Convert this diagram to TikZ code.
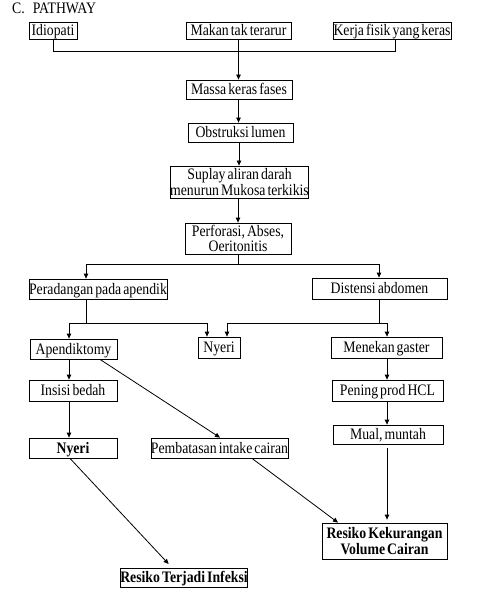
\documentclass[tikz,border=0pt]{standalone}
\usepackage{fontspec}
\setmainfont{Liberation Serif}[FakeStretch=0.86, WordSpace=0.6]
\usetikzlibrary{arrows.meta}
\begin{document}
\begin{tikzpicture}[x=1pt,y=-1pt,
  box/.style={draw, line width=0.8pt, inner sep=0pt, align=center,
    font=\fontsize{16}{15.3}\selectfont},
  one/.style={text height=10.5pt, text depth=0pt},
  bbox/.style={box, font=\fontsize{16}{15.3}\selectfont\bfseries},
  ln/.style={line width=0.8pt},
  arr/.style={ln, -{Triangle[length=5pt,width=4.5pt]}}]
\useasboundingbox (0,0) rectangle (484,596);
\node[anchor=base west, font=\fontsize{16}{16}\selectfont, inner sep=0pt] (title) at (12,13.5) {C.\hspace{8pt}PATHWAY};
% top row
\node[box, one, minimum width=48pt, minimum height=17pt] (idio) at (53,30.5) {Idiopati};
\node[box, one, minimum width=105pt, minimum height=17pt] (makan) at (238.5,30.5) {Makan tak terarur};
\node[box, one, minimum width=118pt, minimum height=17pt] (kerja) at (392,30.5) {Kerja fisik yang keras};
\node[box, one, minimum width=106pt, minimum height=19pt] (massa) at (239,89.5) {Massa keras fases};
\node[box, one, minimum width=105pt, minimum height=19pt] (obs) at (240.5,132.5) {Obstruksi lumen};
\node[box, minimum width=135pt, minimum height=32pt] (suplay) at (239.5,182) {Suplay aliran darah\\menurun Mukosa terkikis};
\node[box, minimum width=106pt, minimum height=31pt] (perf) at (238,238.5) {Perforasi, Abses,\\Oeritonitis};
\node[box, one, minimum width=136pt, minimum height=20pt] (perad) at (98,289) {Peradangan pada apendik};
\node[box, one, minimum width=135pt, minimum height=21pt] (dist) at (379.5,288.5) {Distensi abdomen};
\node[box, one, minimum width=87pt, minimum height=20pt] (apen) at (73.5,349) {Apendiktomy};
\node[box, one, minimum width=42pt, minimum height=21pt] (nyeri1) at (219,347.5) {Nyeri};
\node[box, one, minimum width=111pt, minimum height=21pt] (menekan) at (386.5,347.5) {Menekan gaster};
\node[box, one, minimum width=88pt, minimum height=21pt] (insisi) at (73,390.5) {Insisi bedah};
\node[box, one, minimum width=111pt, minimum height=21pt] (pening) at (387.5,390.5) {Pening prod HCL};
\node[bbox, one, minimum width=88pt, minimum height=20pt] (nyeri2) at (73,448) {Nyeri};
\node[box, one, minimum width=135pt, minimum height=20pt] (pemb) at (219.5,448) {Pembatasan intake cairan};
\node[box, one, minimum width=110pt, minimum height=19pt] (mual) at (388,434.5) {Mual, muntah};
\node[bbox, minimum width=125pt, minimum height=36pt] (rkvc) at (384.5,541) {Resiko Kekurangan\\Volume Cairan};
\node[bbox, one, minimum width=126pt, minimum height=19pt] (rti) at (184,577.5) {Resiko Terjadi Infeksi};
% junctions
\coordinate (jk) at (395,51);
\coordinate (ji) at (53,51);
\coordinate (j2) at (238,264);
\coordinate (j2l) at (86,264);
\coordinate (j2r) at (379,264);
\coordinate (j3) at (86,323);
\coordinate (j3l) at (69,323);
\coordinate (j3r) at (207,323);
\coordinate (j4) at (379,323);
\coordinate (j4l) at (227,323);
\coordinate (j4r) at (387,323);
% connectors
\draw[ln] (idio.south) -- (ji) -- (jk) -- (kerja.south -| jk);
\draw[arr] (makan.south) -- (massa.north -| makan.south);
\draw[arr] (massa.south -| 238.5,0) -- (obs.north -| 238.5,0);
\draw[arr] (obs.south -| 239,0) -- (suplay.north -| 239,0);
\draw[arr] (suplay.south -| 238,0) -- (perf.north -| 238,0);
\draw[ln] (perf.south) -- (j2);
\draw[ln] (j2l) -- (j2r);
\draw[arr] (j2l) -- (perad.north -| j2l);
\draw[arr] (j2r) -- (dist.north -| j2r);
\draw[ln] (perad.south -| j3) -- (j3);
\draw[ln] (j3l) -- (j3r);
\draw[arr] (j3l) -- (apen.north -| j3l);
\draw[arr] (j3r) -- (nyeri1.north -| j3r);
\draw[ln] (dist.south -| j4) -- (j4);
\draw[ln] (j4l) -- (j4r);
\draw[arr] (j4l) -- (nyeri1.north -| j4l);
\draw[arr] (j4r) -- (menekan.north -| j4r);
\draw[arr] (menekan.south -| j4r) -- (pening.north -| j4r);
\draw[arr] (pening.south -| j4r) -- (mual.north -| j4r);
\draw[arr, shorten <=4pt, shorten >=3pt] (mual.south -| j4r) -- (rkvc.north -| j4r);
\draw[arr] (apen.south -| j3l) -- (insisi.north -| j3l);
\draw[arr] (insisi.south -| j3l) -- (nyeri2.north -| j3l);
\draw[arr] (apen.south -| 100,0) -- (pemb.north -| 220,0);
\draw[arr, shorten >=5pt] (nyeri2.south -| 70,0) -- (rti.north -| 172,0);
\draw[arr] (pemb.south -| 252,0) -- (rkvc.north -| 338,0);
\end{tikzpicture}
\end{document}
